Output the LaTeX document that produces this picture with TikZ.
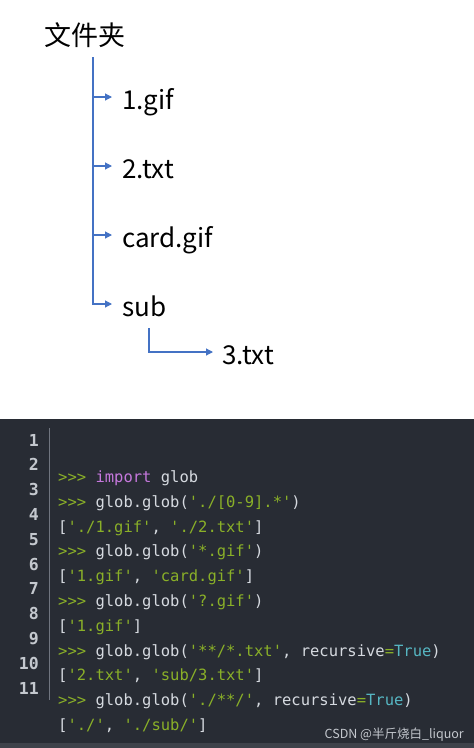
\documentclass[tikz,border=0pt]{standalone}
\usepackage{fontspec}
\setmainfont{Noto Sans CJK SC}
\setmonofont{DejaVu Sans Mono}
\usetikzlibrary{arrows.meta}
\definecolor{treeblue}{RGB}{68,114,196}
\definecolor{codebg}{RGB}{40,44,52}
\definecolor{codeedge}{RGB}{62,66,74}
\definecolor{codetext}{RGB}{214,218,224}
\definecolor{codegreen}{RGB}{138,176,40}
\definecolor{codepurple}{RGB}{198,120,221}
\definecolor{codecyan}{RGB}{86,182,194}
\definecolor{codenum}{RGB}{196,200,206}
\definecolor{coderule}{RGB}{112,117,127}
\newcommand\prompt{\textcolor{codegreen}{>>>}}
\newcommand\codestr[1]{\textcolor{codegreen}{#1}}
\newcommand\codekw[1]{\textcolor{codepurple}{#1}}
\newcommand\codetrue[1]{\textcolor{codecyan}{#1}}
\begin{document}
\begin{tikzpicture}[x=1pt, y=-1pt,
    tree/.style={draw=treeblue, line width=1.1pt},
    branch/.style={tree, -{Triangle[length=7pt, width=7pt]}},
    file/.style={anchor=west, inner sep=0pt, text height=24pt, text depth=0pt,
      font=\fontsize{26}{31}\selectfont},
    code/.style={anchor=base west, inner sep=0pt, text=codetext,
      font=\ttfamily\fontsize{15.5}{18}\selectfont},
    lineno/.style={anchor=base east, inner sep=0pt, text=codenum,
      font=\ttfamily\bfseries\fontsize{16.5}{19}\selectfont}]
  \useasboundingbox (0,0) rectangle (474,748);
  % Folder tree
  \node[anchor=base west, inner sep=0pt, font=\fontsize{27}{32}\selectfont]
    (folder) at (44,45) {文件夹};
  \node[file] (f1)  at (122,97)  {1.gif};
  \node[file] (f2)  at (122,166) {2.txt};
  \node[file] (f3)  at (122,235) {card.gif};
  \node[file] (sub) at (122,304) {sub};
  \node[file] (f4)  at (222,352) {3.txt};
  \coordinate (trunk) at (93,57);
  \coordinate (subtrunk) at (149,328);
  % Trunk and branches
  \draw[branch] (trunk) -- (trunk |- sub.west) -- ([xshift=-10pt]sub.west);
  \draw[branch] (trunk |- f1.west) -- ([xshift=-10pt]f1.west);
  \draw[branch] (trunk |- f2.west) -- ([xshift=-10pt]f2.west);
  \draw[branch] (trunk |- f3.west) -- ([xshift=-10pt]f3.west);
  \draw[branch] (subtrunk) |- ([xshift=-9pt]f4.west);
  % Code panel
  \fill[codebg] (0,419) rectangle (474,748);
  \fill[codeedge] (0,743) rectangle (474,748);
  \draw[coderule, line width=1pt] (49,428) -- (49,700);
  \foreach \n in {1,...,11}
    \node[lineno] (n\n) at (39,{446+24.8*(\n-1)}) {\n};
  \node[code] (c0)  at (58,482.5) {\prompt{} \codekw{import} glob};
  \node[code] (c1)  at (58,507.3) {\prompt{} glob.glob(\codestr{'./[0-9].*'})};
  \node[code] (c2)  at (58,532.1) {[\codestr{'./1.gif'}, \codestr{'./2.txt'}]};
  \node[code] (c3)  at (58,556.9) {\prompt{} glob.glob(\codestr{'*.gif'})};
  \node[code] (c4)  at (58,581.7) {[\codestr{'1.gif'}, \codestr{'card.gif'}]};
  \node[code] (c5)  at (58,606.5) {\prompt{} glob.glob(\codestr{'?.gif'})};
  \node[code] (c6)  at (58,631.3) {[\codestr{'1.gif'}]};
  \node[code] (c7)  at (58,656.1) {\prompt{} glob.glob(\codestr{'**/*.txt'}, recursive\codestr{=}\codetrue{True})};
  \node[code] (c8)  at (58,680.9) {[\codestr{'2.txt'}, \codestr{'sub/3.txt'}]};
  \node[code] (c9)  at (58,705.7) {\prompt{} glob.glob(\codestr{'./**/'}, recursive\codestr{=}\codetrue{True})};
  \node[code] (c10) at (58,730.5) {[\codestr{'./'}, \codestr{'./sub/'}]};
  % Watermark
  \node[anchor=east, inner sep=0pt, text=codenum, font=\fontsize{12.5}{15}\selectfont]
    (mark) at (464,735) {CSDN @半斤烧白\_liquor};
\end{tikzpicture}
\end{document}
